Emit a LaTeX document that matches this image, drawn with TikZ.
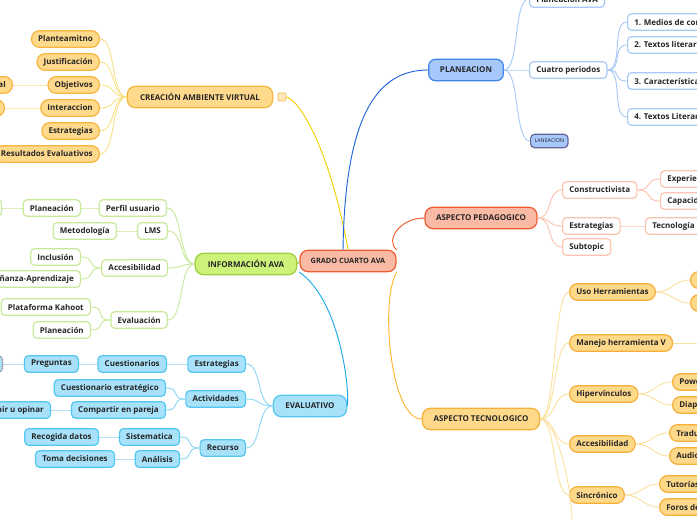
\documentclass[tikz,border=0pt]{standalone}
\usepackage{fontspec}
\setmainfont{Open Sans}
\begin{document}
\definecolor{yfill}{HTML}{FFD98C}\definecolor{ydraw}{HTML}{F6B53E}\definecolor{yline}{HTML}{F8E08A}\definecolor{ymain}{HTML}{F2D000}
\definecolor{gfill}{HTML}{CCF27A}\definecolor{gdraw}{HTML}{9ED040}\definecolor{gchild}{HTML}{C8E89A}
\definecolor{bfill}{HTML}{A8E2FA}\definecolor{bdraw}{HTML}{55C6F0}\definecolor{bline}{HTML}{8ED6F5}\definecolor{bmain}{HTML}{1BA8E8}
\definecolor{pfill}{HTML}{A6C8FA}\definecolor{pdraw}{HTML}{3C84EC}\definecolor{pchild}{HTML}{A9C9F5}\definecolor{pmain}{HTML}{1F64D8}
\definecolor{sfill}{HTML}{F8B9A5}\definecolor{sdraw}{HTML}{F05A30}\definecolor{schild}{HTML}{FBC3B0}\definecolor{smain}{HTML}{F05A28}
\definecolor{tfill}{HTML}{FFD98A}\definecolor{tdraw}{HTML}{F5B03A}\definecolor{tline}{HTML}{FCE0A0}\definecolor{tmain}{HTML}{FFB52E}
\newcommand\lnL[3]{\draw[#1] (#2.west) .. controls +(-16,0) and +(16,0) .. (#3.east);}
\newcommand\lnR[3]{\draw[#1] (#2.east) .. controls +(16,0) and +(-16,0) .. (#3.west);}
\begin{tikzpicture}[x=0.75pt,y=-0.75pt,
 box/.style={draw,line width=0.9pt,rounded corners=3pt,inner xsep=5pt,inner ysep=0pt,minimum height=12.5pt,font=\fontsize{6}{7.5}\selectfont\bfseries,text=black!85},
 Y/.style={box,fill=yfill,draw=ydraw,rounded corners=6pt},
 G/.style={box,fill=white,draw=gchild},
 GM/.style={box,fill=gfill,draw=gdraw,rounded corners=6pt,minimum height=16pt},
 B/.style={box,fill=bfill,draw=bdraw},
 BM/.style={box,fill=bfill,draw=bdraw,rounded corners=6pt,minimum height=16pt},
 P/.style={box,fill=white,draw=pchild},
 S/.style={box,fill=white,draw=schild},
 T/.style={box,fill=tfill,draw=tdraw,rounded corners=6pt},
 L/.style={line width=0.7pt}]
\useasboundingbox (0,0) rectangle (697,520);
\clip (0,0) rectangle (697,520);
% center
\node[box,fill=sfill,draw=sdraw,rounded corners=6pt,minimum height=16pt,minimum width=72pt,font=\fontsize{5.5}{7}\selectfont\bfseries] (c) at (348,261) {GRADO CUARTO AVA};
% creacion
\node[Y,minimum height=16pt,minimum width=109pt] (cr) at (200,97) {CREACIÓN AMBIENTE VIRTUAL};
\node[draw=ydraw,fill=yfill!60,minimum size=6pt,inner sep=0pt,rounded corners=1pt] (ic) at (282,97) {};
\foreach \n/\t/\y in {c1/Planteamitno/39,c2/Justificación/62,c3/Objetivos/85,c4/Interaccion/108,c5/Estrategias/131,c6/Resultados Evaluativos/154}
 {\node[Y,anchor=east] (\n) at (100,\y) {\t}; \lnL{L,yline}{cr}{\n}}
\node[Y,anchor=east] (c3a) at (13,85) {Objetivo general};
\node[Y,anchor=east,minimum width=40pt] (c4a) at (5,108) {};
\lnL{L,yline}{c3}{c3a}\lnL{L,yline}{c4}{c4a}
\draw[L,ymain] (ic.east) .. controls (300,100) and (330,150) .. (c.north);
% informacion
\node[GM,minimum width=76pt] (in) at (246,264) {INFORMACIÓN AVA};
\node[G,anchor=east] (i1) at (167,208) {Perfil usuario};
\node[G,anchor=east] (i1a) at (81,208) {Planeación};
\node[G,anchor=east,minimum width=30pt] (i1b) at (2,208) {};
\node[G,anchor=east] (i2) at (168,231) {LMS};
\node[G,anchor=east] (i2a) at (117,231) {Metodología};
\node[G,anchor=east] (i3) at (168,268) {Accesibilidad};
\node[G,anchor=east] (i3a) at (81,257) {Inclusión};
\node[G,anchor=east] (i3b) at (81,279) {Enseñanza-Aprendizaje};
\node[G,anchor=east] (i4) at (168,320) {Evaluación};
\node[G,anchor=east] (i4a) at (91,307) {Plataforma Kahoot};
\node[G,anchor=east] (i4b) at (91,330) {Planeación};
\foreach \a/\b in {in/i1,in/i2,in/i3,in/i4,i1/i1a,i1a/i1b,i2/i2a,i3/i3a,i3/i3b,i4/i4a,i4/i4b} {\lnL{L,gchild}{\a}{\b}}
\draw[L,gdraw] (c.west) -- (in.east);
% evaluativo
\node[BM,minimum width=55pt] (ev) at (310,406) {EVALUATIVO};
\node[B,anchor=east] (e1) at (246,364) {Estrategias};
\node[B,anchor=east] (e1a) at (167,364) {Cuestionarios};
\node[B,anchor=east] (e1b) at (79,364) {Preguntas};
\node[box,fill=bfill,draw=gray!70,anchor=east,minimum width=20pt] (e1c) at (3,364) {};
\node[B,anchor=east] (e2) at (246,399) {Actividades};
\node[B,anchor=east] (e2a) at (166,388) {Cuestionario estratégico};
\node[B,anchor=east] (e2b) at (166,410) {Compartir en pareja};
\node[B,anchor=east] (e2c) at (51,410) {Escribir u opinar};
\node[B,anchor=east] (e3) at (246,448) {Recurso};
\node[B,anchor=east] (e3a) at (180,437) {Sistematica};
\node[B,anchor=east] (e3b) at (99,437) {Recogida datos};
\node[B,anchor=east] (e3c) at (180,459) {Análisis};
\node[B,anchor=east] (e3d) at (115,459) {Toma decisiones};
\foreach \a/\b in {ev/e1,ev/e2,ev/e3,e1/e1a,e1a/e1b,e1b/e1c,e2/e2a,e2/e2b,e2b/e2c,e3/e3a,e3a/e3b,e3/e3c,e3c/e3d} {\lnL{L,bline}{\a}{\b}}
\draw[L,bmain] (c.south west) .. controls (340,300) and (350,390) .. (ev.east);
% planeacion
\node[box,fill=pfill,draw=pdraw,rounded corners=5pt,minimum height=16pt,minimum width=56pt] (pl) at (466,70) {PLANEACION};
\node[P,anchor=west] (p0) at (529,-1) {Planeación AVA};
\node[P,anchor=west] (p1) at (529,70) {Cuatro periodos};
\node[P,anchor=west] (p1a) at (627,22) {1. Medios de comunicación};
\node[P,anchor=west] (p1b) at (627,45) {2. Textos literarios};
\node[P,anchor=west] (p1c) at (627,81) {3. Características};
\node[P,anchor=west] (p1d) at (627,117) {4. Textos Literarios};
\node[box,fill=pfill,draw=gray!80!blue,anchor=west,minimum height=10pt,inner xsep=3pt,font=\fontsize{4}{5}\selectfont] (p2) at (530,141) {LANEACION};
\foreach \a/\b in {pl/p0,pl/p1,pl/p2,p1/p1a,p1/p1b,p1/p1c,p1/p1d} {\lnR{L,pchild}{\a}{\b}}
\draw[L,pmain] (343,250) .. controls (345,110) and (380,70) .. (pl.west);
% pedagogico
\node[box,fill=sfill,draw=sdraw,rounded corners=6pt,minimum height=16pt,minimum width=84pt] (pe) at (481,218) {ASPECTO PEDAGOGICO};
\node[S,anchor=west] (s1) at (562,190) {Constructivista};
\node[S,anchor=west] (s1a) at (660,179) {Experiencia};
\node[S,anchor=west] (s1b) at (660,201) {Capacidad};
\node[S,anchor=west] (s2) at (562,226) {Estrategias};
\node[S,anchor=west] (s2a) at (645,226) {Tecnología};
\node[S,anchor=west] (s3) at (562,247) {Subtopic};
\foreach \a/\b in {pe/s1,pe/s2,pe/s3,s1/s1a,s1/s1b,s2/s2a} {\lnR{L,schild}{\a}{\b}}
\draw[L,smain] (c.north east) .. controls (385,240) and (400,218) .. (pe.west);
% tecnologico
\node[T,minimum height=16pt,minimum width=88pt] (te) at (481,419) {ASPECTO TECNOLOGICO};
\node[T,anchor=west] (t1) at (569,292) {Uso Herramientas};
\node[T,anchor=west,minimum width=20pt] (t1a) at (690,280) {};
\node[T,anchor=west,minimum width=20pt] (t1b) at (690,303) {};
\node[T,anchor=west] (t2) at (569,343) {Manejo herramienta V};
\coordinate (t2a) at (697,343);
\node[T,anchor=west] (t3) at (569,394) {Hipervínculos};
\node[T,anchor=west] (t3a) at (672,382) {Power Point};
\node[T,anchor=west] (t3b) at (672,405) {Diapositivas};
\node[T,anchor=west] (t4) at (569,444) {Accesibilidad};
\node[T,anchor=west] (t4a) at (669,433) {Traducción};
\node[T,anchor=west] (t4b) at (669,456) {Audio};
\node[T,anchor=west] (t5) at (569,495) {Sincrónico};
\node[T,anchor=west] (t5a) at (659,484) {Tutorías};
\node[T,anchor=west] (t5b) at (659,507) {Foros de discusión};
\coordinate (t6) at (572,525);
\foreach \a/\b in {te/t1,te/t2,te/t3,te/t4,te/t5,t1/t1a,t1/t1b,t3/t3a,t3/t3b,t4/t4a,t4/t4b,t5/t5a,t5/t5b} {\lnR{L,tline}{\a}{\b}}
\draw[L,tline] (t2.east) -- (t2a);
\draw[L,tline] (te.east) .. controls +(16,0) and +(0,-40) .. (t6);
\draw[L,tmain] (c.south east) .. controls (380,300) and (390,419) .. (te.west);
\end{tikzpicture}
\end{document}
